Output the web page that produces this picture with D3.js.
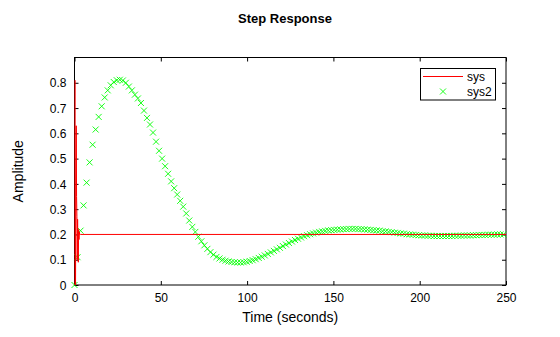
<!DOCTYPE html>
<html>
<head>
<meta charset="utf-8">
<script src="https://cdn.jsdelivr.net/npm/d3@7"></script>
<style>
html,body{margin:0;padding:0;background:#fff;}
svg{display:block;font-family:"Liberation Sans",Arial,Helvetica,sans-serif;}
</style>
</head>
<body>
<svg id="chart" width="560" height="337"></svg>
<script>
// ---- data ----
const title = "Step Response";
const xLabel = "Time (seconds)";
const yLabel = "Amplitude";
const seriesNames = ["sys", "sys2"];
const xTicks = [0, 50, 100, 150, 200, 250];
const yTicks = [0, 0.1, 0.2, 0.3, 0.4, 0.5, 0.6, 0.7, 0.8];

// sys: fast oscillating response settling at 0.2
const sysTime = [0, 0.1, 0.25, 0.4, 0.6, 0.8, 1.0, 1.2, 1.4, 1.6, 1.8, 2.0, 2.2, 2.4, 2.6, 2.8, 3.0, 3.3, 3.6, 250];
const sysAmp  = [0, 0.6, 0.81, 0.3, 0.0, 0.4, 0.63, 0.35, 0.27, 0.1, 0.26, 0.15, 0.09, 0.22, 0.18, 0.21, 0.2, 0.2, 0.2, 0.2];

// sys2: sampled response (markers)
const sys2Time = [0,1.75,3.5,5.25,7,8.75,10.5,12.25,14,15.75,17.5,19.25,21,22.75,24.5,26.25,28,29.75,31.5,33.25,
35,36.75,38.5,40.25,42,43.75,45.5,47.25,49,50.75,52.5,54.25,56,57.75,59.5,61.25,63,64.75,66.5,68.25,
70,71.75,73.5,75.25,77,78.75,80.5,82.25,84,85.75,87.5,89.25,91,92.75,94.5,96.25,98,99.75,101.5,103.25,
105,106.75,108.5,110.25,112,113.75,115.5,117.25,119,120.75,122.5,124.25,126,127.75,129.5,131.25,133,134.75,136.5,138.25,
140,141.75,143.5,145.25,147,148.75,150.5,152.25,154,155.75,157.5,159.25,161,162.75,164.5,166.25,168,169.75,171.5,173.25,
175,176.75,178.5,180.25,182,183.75,185.5,187.25,189,190.75,192.5,194.25,196,197.75,199.5,201.25,203,204.75,206.5,208.25,
210,211.75,213.5,215.25,217,218.75,220.5,222.25,224,225.75,227.5,229.25,231,232.75,234.5,236.25,238,239.75,241.5,243.25,
245,246.75,248.5];
const sys2Amp = [0,0.11,0.215,0.315,0.405,0.485,0.555,0.615,0.665,0.707,0.742,0.77,0.79,0.803,0.81,0.812,0.809,0.8,0.785,0.77,
0.753,0.738,0.72,0.69,0.661,0.635,0.603,0.567,0.531,0.5,0.47,0.44,0.41,0.383,0.358,0.333,0.31,0.283,0.255,0.23,
0.21,0.191,0.173,0.157,0.143,0.13,0.12,0.111,0.105,0.1,0.096,0.093,0.091,0.09,0.089,0.089,0.09,0.092,0.095,0.098,
0.102,0.107,0.112,0.117,0.123,0.129,0.135,0.141,0.147,0.154,0.16,0.166,0.172,0.178,0.183,0.188,0.193,0.197,0.201,0.204,
0.207,0.21,0.212,0.214,0.216,0.217,0.218,0.219,0.22,0.221,0.221,0.222,0.222,0.222,0.221,0.221,0.22,0.219,0.218,0.217,
0.216,0.215,0.213,0.212,0.21,0.209,0.207,0.206,0.204,0.203,0.201,0.2,0.199,0.198,0.197,0.196,0.196,0.195,0.195,0.194,
0.194,0.194,0.194,0.194,0.194,0.194,0.195,0.195,0.195,0.196,0.196,0.196,0.197,0.197,0.198,0.198,0.198,0.199,0.199,0.199,
0.2,0.2,0.2];

// ---- layout ----
const svg = d3.select("#chart");
const L = 74.5, R = 506, T = 57.5, B = 285;
const x = d3.scaleLinear().domain([0, 250]).range([L, R]);
const y = d3.scaleLinear().domain([0, 0.9]).range([B, T]);
const fmtY = d => d === 0 ? "0" : d3.format(".1f")(d);

// title
svg.append("text").attr("x", 285).attr("y", 23).attr("text-anchor", "middle")
  .attr("font-size", 13).attr("font-weight", "bold").text(title);

// axes with inward ticks on all sides
const tick = 4;
const gB = svg.append("g").attr("transform", `translate(0,${B})`)
  .call(d3.axisBottom(x).tickValues(xTicks).tickSizeInner(-tick).tickSizeOuter(0).tickPadding(8).tickFormat(d3.format("d")));
const gT = svg.append("g").attr("transform", `translate(0,${T})`)
  .call(d3.axisTop(x).tickValues(xTicks).tickSizeInner(-tick).tickSizeOuter(0).tickFormat(""));
const gL = svg.append("g").attr("transform", `translate(${L},0)`)
  .call(d3.axisLeft(y).tickValues(yTicks).tickSizeInner(-tick).tickSizeOuter(0).tickPadding(8).tickFormat(fmtY));
const gR = svg.append("g").attr("transform", `translate(${R},0)`)
  .call(d3.axisRight(y).tickValues(yTicks).tickSizeInner(-tick).tickSizeOuter(0).tickFormat(""));
[gB, gT, gL, gR].forEach(g => {
  g.select(".domain").remove();
  g.selectAll("line").attr("stroke", "#000");
  g.selectAll("text").attr("font-size", 12).attr("fill", "#000")
    .attr("font-family", "Liberation Sans, Arial, sans-serif");
});
gL.selectAll("text").attr("dy", "0.35em");

// frame
svg.append("rect").attr("x", L).attr("y", T).attr("width", R - L).attr("height", B - T)
  .attr("fill", "none").attr("stroke", "#000").attr("stroke-width", 1);

// labels
svg.append("text").attr("x", (L + R) / 2).attr("y", 322).attr("text-anchor", "middle")
  .attr("font-size", 14).text(xLabel);
svg.append("text").attr("transform", `translate(23,${(T + B) / 2}) rotate(-90)`)
  .attr("text-anchor", "middle").attr("font-size", 14).text(yLabel);

// clip
svg.append("clipPath").attr("id", "clip").append("rect")
  .attr("x", L).attr("y", T).attr("width", R - L).attr("height", B - T);

// sys2 markers
const ms = 3;
const g2 = svg.append("g");
sys2Time.forEach((t, i) => {
  const cx = x(t), cy = y(sys2Amp[i]);
  g2.append("path")
    .attr("d", `M${cx - ms},${cy - ms}L${cx + ms},${cy + ms}M${cx - ms},${cy + ms}L${cx + ms},${cy - ms}`)
    .attr("stroke", "#00ff00").attr("stroke-width", 0.9).attr("fill", "none");
});

// sys line
const line = d3.line().x((d, i) => x(sysTime[i])).y(d => y(d));
svg.append("path").datum(sysAmp).attr("clip-path", "url(#clip)")
  .attr("d", line).attr("fill", "none").attr("stroke", "#ff0000").attr("stroke-width", 1);

// legend
const lg = svg.append("g");
lg.append("rect").attr("x", 420.5).attr("y", 68.5).attr("width", 75).attr("height", 31.5)
  .attr("fill", "#fff").attr("stroke", "#000").attr("stroke-width", 1);
lg.append("line").attr("x1", 423).attr("x2", 463).attr("y1", 76.5).attr("y2", 76.5)
  .attr("stroke", "#ff0000").attr("stroke-width", 1);
lg.append("path")
  .attr("d", `M${443 - ms},${91.5 - ms}L${443 + ms},${91.5 + ms}M${443 - ms},${91.5 + ms}L${443 + ms},${91.5 - ms}`)
  .attr("stroke", "#00ff00").attr("stroke-width", 0.9);
lg.append("text").attr("x", 467).attr("y", 80.5).attr("font-size", 12).text(seriesNames[0]);
lg.append("text").attr("x", 467).attr("y", 95.5).attr("font-size", 12).text(seriesNames[1]);
</script>
</body>
</html>
